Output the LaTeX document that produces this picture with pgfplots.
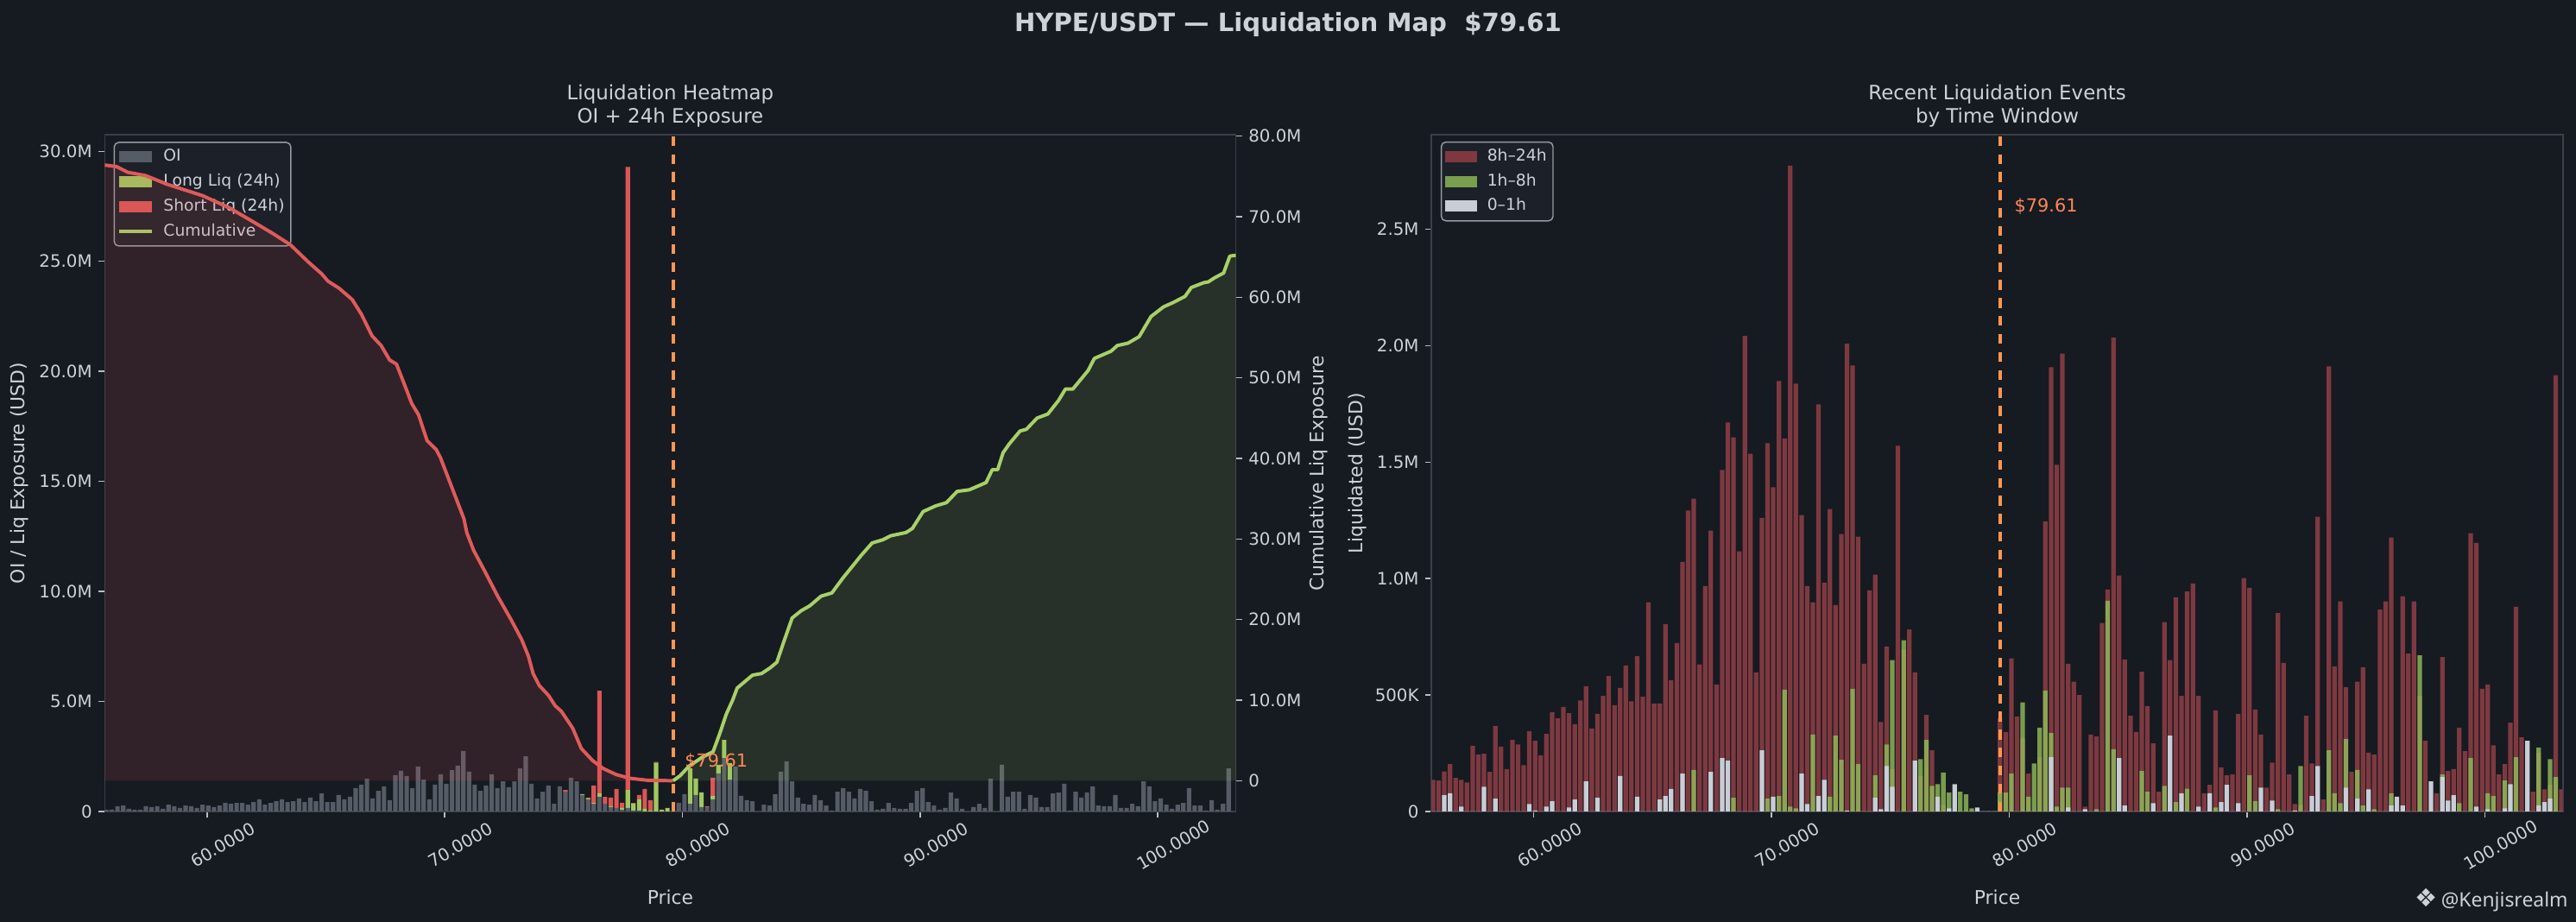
\documentclass[border=0pt]{standalone}
\usepackage{fontspec}
\setmainfont{DejaVu Sans}
\newfontfamily\wmfont{Noto Sans}
\usepackage{pgfplots}
\usepackage{pgfplotstable}
\pgfplotsset{compat=1.18}
\definecolor{bg}{RGB}{22,26,33}
\definecolor{spine}{RGB}{58,63,72}
\definecolor{txt}{RGB}{205,209,216}
\definecolor{tickc}{RGB}{185,189,196}
\definecolor{oic}{RGB}{86,92,102}
\definecolor{longc}{RGB}{160,200,95}
\definecolor{shortc}{RGB}{219,86,86}
\definecolor{cumred}{RGB}{224,90,90}
\definecolor{cumgreen}{RGB}{168,208,104}
\definecolor{priceor}{RGB}{255,150,80}
\definecolor{labor}{RGB}{255,135,85}
\definecolor{rred}{RGB}{126,57,64}
\definecolor{rgreen}{RGB}{145,190,88}
\definecolor{rwhite}{RGB}{200,205,214}
\definecolor{legbg}{RGB}{28,32,40}
\definecolor{legedge}{RGB}{150,154,162}

\pgfplotstableread{
k oi lg sh
1 0.08 0 0
2 0.08 0 0
3 0.24 0 0
4 0.27 0 0
5 0.12 0 0
6 0.08 0 0
7 0.08 0 0
8 0.24 0 0
9 0.20 0 0
10 0.24 0 0
11 0.12 0 0
12 0.31 0 0
13 0.24 0 0
14 0.16 0 0
15 0.27 0 0
16 0.24 0 0
17 0.16 0 0
18 0.31 0 0
19 0.27 0 0
20 0.20 0 0
21 0.27 0 0
22 0.39 0 0
23 0.35 0 0
24 0.39 0 0
25 0.39 0 0
26 0.31 0 0
27 0.43 0 0
28 0.55 0 0
29 0.31 0 0
30 0.39 0 0
31 0.47 0 0
32 0.55 0 0
33 0.43 0 0
34 0.47 0 0
35 0.59 0 0
36 0.43 0 0
37 0.63 0 0
38 0.47 0 0
39 0.82 0 0
40 0.43 0 0
41 0.43 0 0
42 0.75 0 0
43 0.55 0 0
44 0.67 0 0
45 1.06 0 0
46 1.22 0 0
47 1.49 0 0
48 0.59 0 0
49 0.94 0 0
50 1.14 0 0
51 0.51 0 0
52 1.65 0 0
53 1.85 0 0
54 1.61 0 0
55 1.06 0 0
56 2.04 0 0
57 1.45 0 0
58 0.55 0 0
59 1.22 0 0
60 1.69 0 0
61 1.26 0 0
62 1.88 0 0
63 2.08 0 0
64 2.75 0 0
65 1.81 0 0
66 1.22 0 0
67 0.94 0 0
68 1.18 0 0
69 1.69 0 0
70 1.06 0 0
71 1.37 0 0
72 1.10 0 0
73 1.37 0 0
74 1.96 0 0
75 2.51 0 0
76 1.26 0 0
77 0.59 0 0
78 0.90 0 0
79 1.18 0 0
80 0.35 0 0
81 1.14 0 0
82 0.90 0 0.08
83 1.53 0 0
84 1.37 0 0
85 0.75 0.04 0
86 0.55 0.04 0.04
87 0.35 0.04 0.79
88 0.67 0.16 4.66
89 0.35 0 0.31
90 0.20 0.04 0.39
91 0.16 0 0.86
92 0.08 0.08 0.24
93 0.16 0.82 28.31
94 0.04 0.31 0.04
95 0.04 0.51 0.20
96 0 0.12 0.90
97 0 0.04 0.47
98 0 2.22 0.03
99 0 0.08 0
100 0 0.16 0
101 0 0 0
102 0.39 0 0
103 0.79 0 0
104 0.35 1.61 0
105 0.75 0.75 0
106 0.20 0.67 0
107 0.20 0 0.04
108 0.55 0.16 0.82
109 1.73 0.39 0
110 2.43 0.82 0
111 1.45 0.75 0
112 2.04 0 0
113 0.71 0 0
114 0.51 0 0
115 0.47 0 0
116 0 0 0
117 0.31 0 0
118 0.27 0 0
119 0.79 0 0
120 1.81 0 0
121 2.28 0 0
122 1.37 0 0
123 0.63 0 0
124 0.35 0 0
125 0.31 0 0
126 0.75 0 0
127 0.51 0 0
128 0.27 0 0
129 0.04 0 0
130 0.90 0 0
131 1.06 0 0
132 0.90 0 0
133 0.59 0 0
134 1.02 0 0
135 0.94 0 0
136 0.47 0 0
137 0.08 0 0
138 0.12 0 0
139 0.39 0 0
140 0.16 0 0
141 0.12 0 0
142 0.12 0 0
143 0.39 0 0
144 0.94 0 0
145 1.06 0 0
146 0.43 0 0
147 0.27 0 0
148 0.08 0 0
149 0.16 0 0
150 0.86 0 0
151 0.59 0 0
152 0.12 0 0
153 0 0 0
154 0.20 0 0
155 0.35 0 0
156 0.16 0 0
157 1.49 0 0
158 0 0 0
159 2.12 0 0
160 0.67 0 0
161 0.90 0 0
162 0.90 0 0
163 0.12 0 0
164 0.75 0 0
165 0.63 0 0
166 0.20 0 0
167 0.20 0 0
168 0.82 0 0
169 0.86 0 0
170 1.26 0 0
171 0.04 0 0
172 0.90 0 0
173 0.63 0 0
174 0.86 0 0
175 1.14 0 0
176 0.27 0 0
177 0.24 0 0
178 0.24 0 0
179 0.75 0 0
180 0.16 0 0
181 0.16 0 0
182 0.35 0 0
183 0.24 0 0
184 1.37 0 0
185 1.14 0 0
186 0.47 0 0
187 0.59 0 0
188 0.31 0 0
189 0.12 0 0
190 0.31 0 0
191 0.39 0 0
192 1.06 0 0
193 0.27 0 0
194 0.27 0 0
195 0.04 0 0
196 0.51 0 0
197 0.08 0 0
198 0.35 0 0
199 1.96 0 0
200 0 0 0
}\lefttab

\pgfplotstableread{
k r g w
1 0.136 0 0
2 0.133 0 0
3 0.172 0 0.070
4 0.203 0 0.078
5 0.144 0 0
6 0.136 0 0.021
7 0.125 0 0
8 0.282 0 0
9 0.244 0 0
10 0.248 0 0.106
11 0.170 0 0
12 0.367 0 0.055
13 0.278 0 0
14 0.182 0 0
15 0.307 0 0
16 0.288 0 0
17 0.199 0 0
18 0.345 0 0.032
19 0.303 0 0.004
20 0.240 0 0
21 0.333 0 0.021
22 0.426 0 0.044
23 0.400 0 0
24 0.449 0 0
25 0.422 0 0.017
26 0.375 0 0.051
27 0.477 0 0
28 0.538 0 0.129
29 0.356 0 0
30 0.419 0 0.059
31 0.496 0 0
32 0.581 0 0
33 0.456 0 0
34 0.530 0 0.152
35 0.627 0 0
36 0.473 0 0
37 0.667 0 0.063
38 0.492 0 0
39 0.898 0 0
40 0.464 0 0
41 0.464 0 0.051
42 0.805 0 0.066
43 0.564 0 0.097
44 0.723 0 0
45 1.072 0 0.163
46 1.292 0 0
47 1.343 0.178 0
48 0.631 0 0
49 0.968 0 0
50 1.206 0 0.170
51 0.545 0 0
52 1.466 0 0.229
53 1.670 0 0.218
54 1.606 0.059 0
55 1.117 0 0
56 2.042 0 0
57 1.536 0 0
58 0.597 0 0
59 1.261 0 0.263
60 1.581 0.055 0
61 1.392 0 0.063
62 1.848 0.066 0
63 1.602 0.523 0
64 2.773 0.021 0
65 1.837 0.013 0
66 1.273 0 0.163
67 0.968 0 0.032
68 0.898 0.330 0
69 1.748 0 0.066
70 0.983 0 0.136
71 1.299 0.063 0
72 0.886 0.326 0
73 1.191 0.222 0
74 2.008 0 0.004
75 1.915 0.527 0
76 1.180 0.203 0
77 0.634 0 0
78 0.949 0 0
79 1.017 0.155 0.059
80 0.384 0 0.010
81 0.708 0.288 0.195
82 0.182 0.650 0.106
83 1.570 0 0
84 0.693 0.735 0
85 0.782 0 0
86 0.597 0 0.218
87 0.152 0.225 0
88 0.415 0.307 0
89 0.263 0.110 0
90 0.060 0.117 0.063
91 0.028 0.167 0
92 0 0.081 0.013
93 0 0 0.117
94 0 0.085 0
95 0 0.074 0
96 0 0.013 0
97 0 0 0.017
98 0 0 0
99 0 0 0
100 0 0 0
101 0.400 0.081 0
102 0.341 0.081 0
103 0.657 0.163 0
104 0.407 0 0
105 0.314 0.468 0
106 0.163 0.063 0
107 0 0.206 0
108 0.233 0.360 0
109 1.246 0.519 0
110 1.907 0.337 0.233
111 1.489 0.021 0
112 1.966 0.102 0
113 0.634 0.102 0.017
114 0.557 0 0
115 0.500 0 0
116 0.021 0 0.010
117 0.330 0 0
118 0.322 0.010 0
119 0.809 0 0
120 0.953 0.905 0
121 2.034 0.267 0
122 1.013 0 0.229
123 0.653 0 0.025
124 0.411 0 0
125 0.341 0 0
126 0.600 0.174 0
127 0.453 0.085 0
128 0.292 0 0.036
129 0.085 0 0
130 0.813 0.110 0
131 0.650 0 0.326
132 0.920 0.040 0
133 0.496 0 0.078
134 0.945 0.098 0
135 0.979 0 0
136 0.496 0 0.021
137 0.078 0 0
138 0.114 0 0.078
139 0.434 0.017 0
140 0.189 0 0.040
141 0.155 0 0.114
142 0.159 0 0
143 0.419 0 0.036
144 1.002 0 0
145 0.960 0.155 0
146 0.438 0.044 0
147 0.330 0 0.102
148 0.102 0 0
149 0.210 0 0.047
150 0.852 0.010 0
151 0.638 0 0
152 0.159 0 0
153 0.032 0 0.004
154 0.028 0.195 0
155 0.411 0 0
156 0.206 0 0.066
157 1.265 0 0.195
158 0.051 0 0
159 1.911 0.263 0
160 0.623 0.078 0
161 0.902 0.036 0
162 0.534 0.311 0.102
163 0.170 0 0
164 0.557 0.178 0.055
165 0.619 0.025 0
166 0.252 0 0.095
167 0.244 0.010 0
168 0.867 0 0
169 0.902 0 0
170 1.176 0.078 0.025
171 0 0 0.063
172 0.924 0 0.025
173 0.678 0 0
174 0.902 0 0
175 0.496 0.670 0
176 0.303 0 0
177 0 0 0.129
178 0.078 0 0
179 0.663 0.159 0.148
180 0.174 0 0.047
181 0.182 0 0.070
182 0.360 0.036 0
183 0.259 0 0
184 1.195 0.229 0
185 1.153 0 0.021
186 0.527 0 0
187 0.545 0.078 0.010
188 0.284 0.066 0
189 0.159 0 0
190 0.203 0.133 0.013
191 0.381 0 0.117
192 0.879 0.233 0
193 0.318 0 0
194 0 0 0.303
195 0.085 0 0
196 0.252 0.275 0.025
197 0.095 0 0.040
198 0.114 0.225 0.055
199 1.873 0.148 0
200 0.095 0 0
}\righttab

\pgfplotsset{
 base/.style={
  scale only axis, height=376.46pt,
  xmin=0.75, xmax=200.25,
  axis line style={draw=spine, line width=0.8pt},
  tick style={draw=tickc, line width=0.7pt},
  major tick length=3.5pt, tick align=outside,
  tick label style={text=txt, font=\fontsize{9.5}{11}\selectfont},
  xtick={18.78,60.71,102.64,144.56,186.49},
  xticklabels={60.0000,70.0000,80.0000,90.0000,100.0000},
  xticklabel style={rotate=30, anchor=center, inner sep=0pt, yshift=-17.5pt},
  xtick pos=left, xticklabel pos=left,
 },
 patchleg/.style={legend image code/.code={\fill[##1, sharp corners] (0pt,-3.1pt) rectangle (18pt,3.1pt);}},
 lineleg/.style={legend image code/.code={\draw[##1, sharp corners] (0pt,0pt) -- (18pt,0pt);}},
 myleg/.style={legend cell align=left,
  legend style={at={(0,1)}, anchor=north west, xshift=4.9pt, yshift=-4.1pt,
   fill=legbg, draw=legedge, line width=0.7pt, rounded corners=2.5pt,
   text=txt, font=\fontsize{9}{11}\selectfont,
   inner xsep=2pt, inner ysep=2pt, row sep=1.6pt,
   nodes={inner sep=1.5pt, text height=7pt, text depth=2.2pt},
   /tikz/every odd column/.append style={column sep=4pt}}},
}

\begin{document}
\begin{tikzpicture}[x=1pt,y=1pt]
\fill[bg] (0,0) rectangle (1432.32,512.64);
\useasboundingbox (0,0) rectangle (1432.32,512.64);

% ---------- left chart: bars ----------
\begin{axis}[base, myleg, at={(58.27pt,61.44pt)}, anchor=south west, width=628.85pt,
  ybar stacked, bar width=0.78,
  ymin=0, ymax=30.77,
  ytick={0,5,10,15,20,25,30},
  yticklabels={0,5.0M,10.0M,15.0M,20.0M,25.0M,30.0M},
  ytick pos=left, yticklabel pos=left,
  yticklabel style={anchor=east, inner sep=0pt, xshift=-3.4pt}]
\addplot[fill=oic, draw=none, patchleg] table[x=k,y=oi]{\lefttab};
\addlegendentry{OI}
\addplot[fill=longc, draw=none, patchleg] table[x=k,y=lg]{\lefttab};
\addlegendentry{Long Liq (24h)}
\addplot[fill=shortc, draw=none, patchleg] table[x=k,y=sh]{\lefttab};
\addlegendentry{Short Liq (24h)}
\addlegendimage{lineleg, cumgreen, line width=1.9pt}
\addlegendentry{Cumulative}
\end{axis}

% ---------- left chart: cumulative (twin) ----------
\begin{axis}[base, at={(58.27pt,61.44pt)}, anchor=south west, width=628.85pt,
  ymin=-3.82, ymax=80.2,
  axis x line=none, axis y line*=right, axis line style={draw=none},
  ytick={0,10,20,30,40,50,60,70,80},
  yticklabels={0,10.0M,20.0M,30.0M,40.0M,50.0M,60.0M,70.0M,80.0M},
  yticklabel style={anchor=west, inner sep=0pt, xshift=3.4pt}]
\addplot[draw=none, fill=cumred, fill opacity=0.13] coordinates {
(0.75,0) (0.75,76.4) (2.85,76.2) (4.8,75.5) (7.9,75.1) (11.8,74.0) (18.0,72.6) (22.7,71.1)
(27.3,69.2) (30.4,67.9) (33.5,66.5) (36.6,64.4) (39.0,62.9) (40.1,62.0) (42.1,61.1)
(44.4,59.7) (46.0,57.9) (47.9,55.2) (49.5,54.0) (51.0,52.2) (52.2,51.7) (53.7,49.0)
(54.9,46.8) (56.1,45.4) (57.6,42.2) (59.2,41.1) (59.95,40.1) (64.1,32.5) (64.6,30.8)
(65.8,28.6) (67.7,26.1) (70.05,22.9) (72.4,20.0) (74.3,17.5) (75.5,15.4) (76.3,13.3)
(77.4,11.8) (79.0,10.6) (80.2,9.3) (81.3,8.6) (83.3,6.5) (84.8,4.0) (86.8,2.5) (88.7,1.5)
(91.0,0.75) (93.4,0.3) (96.5,0.05) (100.7,0) (101,0)};
\addplot[draw=none, fill=cumgreen, fill opacity=0.12] coordinates {
(101,0) (102.2,0.6) (103.8,1.8) (106.1,2.9) (108.05,3.6) (109.2,5.8) (110.4,8.3) (111.5,10.0)
(112.3,11.5) (115.0,13.1) (116.6,13.3) (118.1,14.0) (119.3,14.7) (120.5,17.2) (122.0,20.2)
(123.6,21.1) (125.1,21.7) (127.1,22.9) (129.0,23.3) (131.0,25.2) (132.5,26.5) (134.1,27.9)
(136.1,29.5) (138.0,29.9) (139.4,30.4) (142.1,30.8) (143.2,31.3) (145.1,33.4) (147.3,34.1)
(149.2,34.5) (151.1,35.9) (153.25,36.1) (154.9,36.6) (156.2,37.0) (157.3,38.6) (158.25,38.6)
(159.2,40.7) (160.3,41.8) (162.2,43.4) (163.3,43.6) (165.2,45.0) (167.1,45.5) (169.0,47.2)
(170.2,48.6) (171.5,48.6) (172.8,49.7) (174.2,50.9) (175.3,52.4) (178.25,53.3) (179.35,54.0)
(181.25,54.3) (183.2,55.1) (185.3,57.6) (187.5,58.8) (189.1,59.3) (191.3,60.1) (192.4,61.2)
(194.6,61.8) (195.4,61.9) (196.5,62.4) (198.1,63.0) (199.2,65.1) (200.25,65.2) (200.25,0)};
\addplot[cumred, line width=1.9pt, line join=round] coordinates {
(0.75,76.4) (2.85,76.2) (4.8,75.5) (7.9,75.1) (11.8,74.0) (18.0,72.6) (22.7,71.1)
(27.3,69.2) (30.4,67.9) (33.5,66.5) (36.6,64.4) (39.0,62.9) (40.1,62.0) (42.1,61.1)
(44.4,59.7) (46.0,57.9) (47.9,55.2) (49.5,54.0) (51.0,52.2) (52.2,51.7) (53.7,49.0)
(54.9,46.8) (56.1,45.4) (57.6,42.2) (59.2,41.1) (59.95,40.1) (64.1,32.5) (64.6,30.8)
(65.8,28.6) (67.7,26.1) (70.05,22.9) (72.4,20.0) (74.3,17.5) (75.5,15.4) (76.3,13.3)
(77.4,11.8) (79.0,10.6) (80.2,9.3) (81.3,8.6) (83.3,6.5) (84.8,4.0) (86.8,2.5) (88.7,1.5)
(91.0,0.75) (93.4,0.3) (96.5,0.05) (100.7,0) (101,0)};
\addplot[cumgreen, line width=1.9pt, line join=round] coordinates {
(101,0) (102.2,0.6) (103.8,1.8) (106.1,2.9) (108.05,3.6) (109.2,5.8) (110.4,8.3) (111.5,10.0)
(112.3,11.5) (115.0,13.1) (116.6,13.3) (118.1,14.0) (119.3,14.7) (120.5,17.2) (122.0,20.2)
(123.6,21.1) (125.1,21.7) (127.1,22.9) (129.0,23.3) (131.0,25.2) (132.5,26.5) (134.1,27.9)
(136.1,29.5) (138.0,29.9) (139.4,30.4) (142.1,30.8) (143.2,31.3) (145.1,33.4) (147.3,34.1)
(149.2,34.5) (151.1,35.9) (153.25,36.1) (154.9,36.6) (156.2,37.0) (157.3,38.6) (158.25,38.6)
(159.2,40.7) (160.3,41.8) (162.2,43.4) (163.3,43.6) (165.2,45.0) (167.1,45.5) (169.0,47.2)
(170.2,48.6) (171.5,48.6) (172.8,49.7) (174.2,50.9) (175.3,52.4) (178.25,53.3) (179.35,54.0)
(181.25,54.3) (183.2,55.1) (185.3,57.6) (187.5,58.8) (189.1,59.3) (191.3,60.1) (192.4,61.2)
(194.6,61.8) (195.4,61.9) (196.5,62.4) (198.1,63.0) (199.2,65.1) (200.25,65.2)};
\addplot[priceor, line width=1.9pt, dash pattern=on 5.5pt off 4.5pt] coordinates {(101,-3.82) (101,80.2)};
\node[anchor=base west, text=labor, font=\fontsize{10}{12}\selectfont, inner sep=0pt] at (axis cs:103.0,1.65) {\$79.61};
\end{axis}

% ---------- right chart ----------
\begin{axis}[base, myleg, at={(795.98pt,61.44pt)}, anchor=south west, width=629pt,
  legend style={xshift=0.2pt, yshift=0.2pt},
  ymin=0, ymax=2.907,
  ytick={0,0.5,1,1.5,2,2.5},
  yticklabels={0,500K,1.0M,1.5M,2.0M,2.5M},
  ytick pos=left, yticklabel pos=left,
  yticklabel style={anchor=east, inner sep=0pt, xshift=-3.4pt}]
\addplot[ybar, bar width=0.8, bar shift=0pt, fill=rred, draw=none, patchleg] table[x=k,y=r]{\righttab};
\addlegendentry{8h–24h}
\addplot[ybar, bar width=0.8, bar shift=0pt, fill=rgreen, fill opacity=0.8, draw=none, patchleg] table[x=k,y=g]{\righttab};
\addlegendentry{1h–8h}
\addplot[ybar, bar width=0.8, bar shift=0pt, fill=rwhite, draw=none, patchleg] table[x=k,y=w]{\righttab};
\addlegendentry{0–1h}
\addplot[priceor, line width=1.9pt, dash pattern=on 5.5pt off 4.5pt, forget plot] coordinates {(101,0) (101,2.907)};
\node[anchor=base west, text=labor, font=\fontsize{10}{12}\selectfont, inner sep=0pt] at (axis cs:103.5,2.574) {\$79.61};
\end{axis}

% ---------- texts ----------
\node[anchor=base, text=txt, font=\fontsize{14}{16}\selectfont\bfseries] at (716.16,495.0) {HYPE/USDT — Liquidation Map\ \ \$79.61};
\node[anchor=base, text=txt, font=\fontsize{11}{13}\selectfont] at (372.7,457.4) {Liquidation Heatmap};
\node[anchor=base, text=txt, font=\fontsize{11}{13}\selectfont] at (372.7,444.3) {OI + 24h Exposure};
\node[anchor=base, text=txt, font=\fontsize{11}{13}\selectfont] at (1110.5,457.4) {Recent Liquidation Events};
\node[anchor=base, text=txt, font=\fontsize{11}{13}\selectfont] at (1110.5,444.3) {by Time Window};
\node[anchor=base, text=txt, font=\fontsize{10.5}{12}\selectfont] at (372.7,9.6) {Price};
\node[anchor=base, text=txt, font=\fontsize{10.5}{12}\selectfont] at (1110.5,9.6) {Price};
\node[rotate=90, text=txt, font=\fontsize{10.5}{12}\selectfont] at (10.8,249.6) {OI / Liq Exposure (USD)};
\node[rotate=90, text=txt, font=\fontsize{10.5}{12}\selectfont] at (733,249.6) {Cumulative Liq Exposure};
\node[rotate=90, text=txt, font=\fontsize{10.5}{12}\selectfont] at (754.6,249.6) {Liquidated (USD)};
\node[anchor=base east, text=txt, font=\wmfont\fontsize{11}{13}\selectfont, inner sep=0pt] at (1428,8.6) {{\normalfont\fontsize{14}{14}\selectfont ❖}\,@Kenjisrealm};
\end{tikzpicture}
\end{document}
